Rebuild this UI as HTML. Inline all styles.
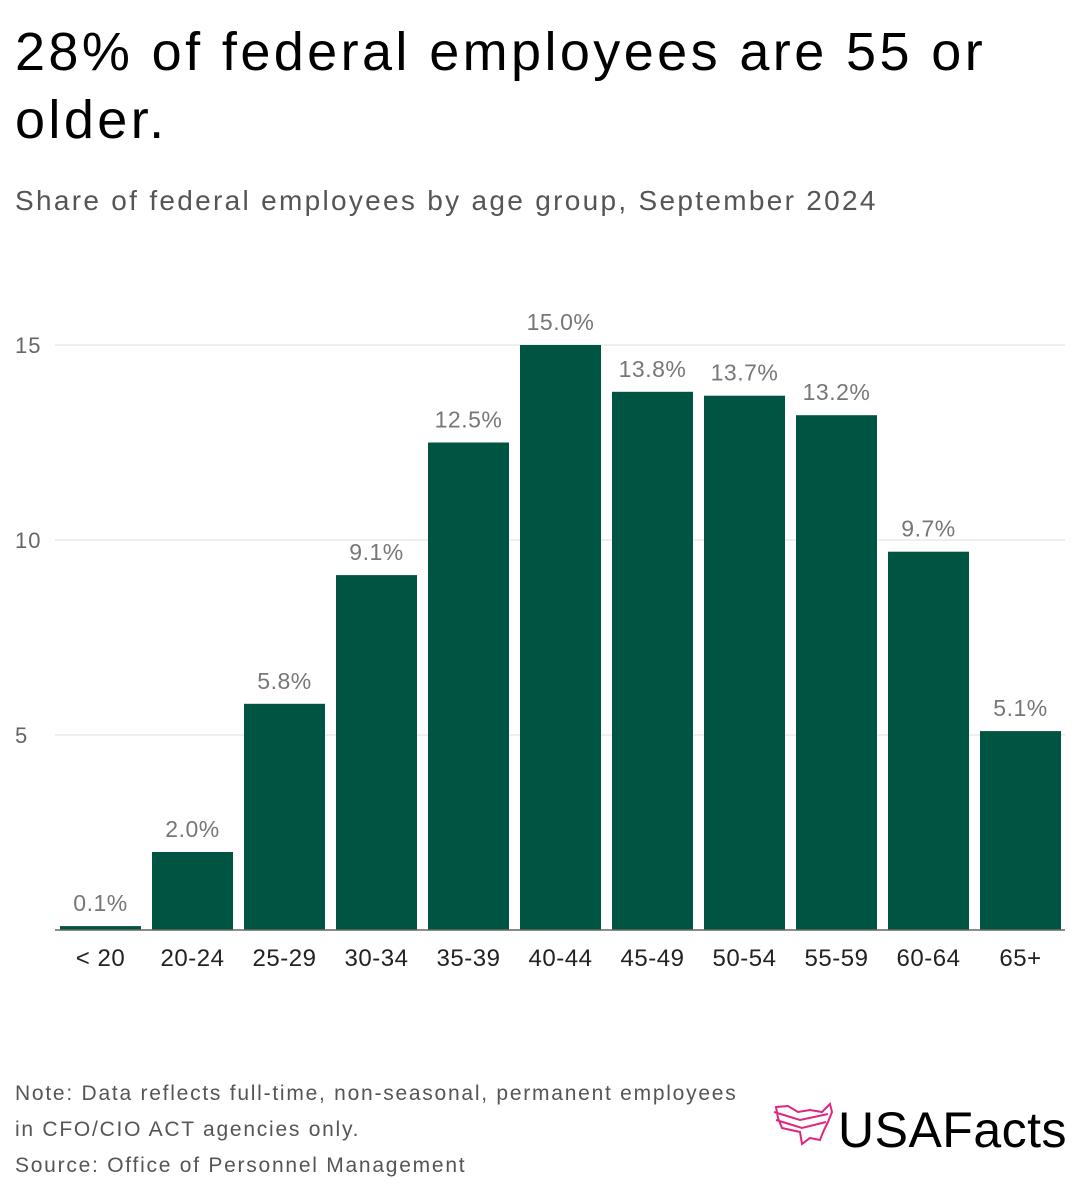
<!DOCTYPE html>
<html><head><meta charset="utf-8"><style>
body{margin:0;background:#fff;font-family:"Liberation Sans",sans-serif;}
#wrap{position:relative;width:1080px;height:1198px;overflow:hidden;}
h1{position:absolute;left:15px;top:18px;margin:0;font-size:54px;font-weight:normal;line-height:68px;color:#000;width:1060px;letter-spacing:3.4px}
.sub{position:absolute;left:15px;top:185px;font-size:28px;color:#555;letter-spacing:2.3px;white-space:nowrap}
.note{position:absolute;left:15px;top:1076px;font-size:21px;line-height:36px;color:#555;letter-spacing:1.75px;white-space:nowrap}
</style></head><body>
<div id="wrap">
<h1>28% of federal employees are 55 or<br>older.</h1>
<div class="sub">Share of federal employees by age group, September 2024</div>
<svg id="chart" width="1080" height="1198" style="position:absolute;left:0;top:0"></svg>
<div class="note">Note: Data reflects full-time, non-seasonal, permanent employees<br>in CFO/CIO ACT agencies only.<br>Source: Office of Personnel Management</div>
<svg width="300" height="60" style="position:absolute;left:770px;top:1100px">
<path d="M6 7 L18 6 L28 12 L40 10 L52 12 L60 4 L62 12 L58 22 L54 30 L50 40 L40 38 L32 44 L30 32 L12 28 L8 18 Z M4 12 L30 20 L58 14 M6 20 L32 28 L56 22" fill="none" stroke="#e0267d" stroke-width="2"/>
<text x="68" y="47" font-size="50" font-family="Liberation Sans, sans-serif" fill="#000" letter-spacing="0.5">USAFacts</text>
</svg>
</div>
<script>
const categories=["< 20","20-24","25-29","30-34","35-39","40-44","45-49","50-54","55-59","60-64","65+"];
const values=[0.1,2.0,5.8,9.1,12.5,15.0,13.8,13.7,13.2,9.7,5.1];
const ticks=[5,10,15];
const svg=document.getElementById('chart');
const NS='http://www.w3.org/2000/svg';
const y0=930,pxPer=39,left=55,right=1065,step=92,bw=81,x0=60;
const y=v=>y0-v*pxPer;
const x=i=>x0+i*step;
function mk(t,a){const e=document.createElementNS(NS,t);for(const k in a)e.setAttribute(k,a[k]);svg.appendChild(e);return e;}
ticks.forEach(t=>{
 const l=mk('line',{x1:left,x2:right,y1:y(t),y2:y(t),stroke:'#ddd','stroke-width':1});
 
 
 const tx=mk('text',{x:15,y:y(t)+8,'font-size':22,fill:'#666','letter-spacing':1});tx.textContent=t;
 
 
});
values.forEach((v,i)=>{
 const r=mk('rect',{x:x(i),y:y(v),width:bw,height:v*pxPer,fill:'#005442'});
 
 
 const lb=mk('text',{x:x(i)+bw/2,y:y(v)-15,'font-size':23,fill:'#777','text-anchor':'middle','letter-spacing':0.5});lb.textContent=v.toFixed(1)+'%';
 
 
 const cl=mk('text',{x:x(i)+bw/2,y:966,'font-size':24,fill:'#222','text-anchor':'middle','letter-spacing':0.5});cl.textContent=categories[i];
 
 
});
const ax=mk('line',{x1:left,x2:right,y1:y0,y2:y0,stroke:'#666','stroke-width':1.5});


</script>
</body></html>
